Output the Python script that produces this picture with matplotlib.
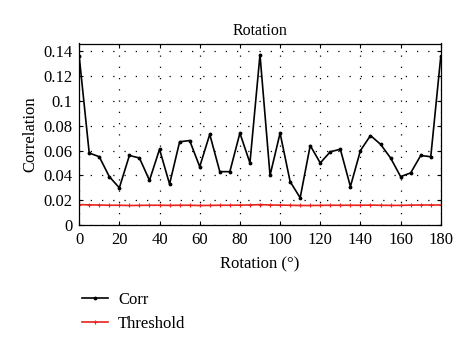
import numpy as np
import matplotlib
matplotlib.use("Agg")
from matplotlib import pyplot as plt

plt.rcParams['font.family'] = ['Liberation Serif', 'DejaVu Serif']
plt.rcParams['mathtext.fontset'] = 'stix'

angles = list(range(0, 181, 5))
corr = [0.136, 0.058, 0.055, 0.039, 0.030, 0.056, 0.054, 0.036, 0.061, 0.033,
        0.067, 0.068, 0.047, 0.073, 0.043, 0.043, 0.074, 0.050, 0.137, 0.040,
        0.074, 0.035, 0.022, 0.064, 0.050, 0.059, 0.061, 0.031, 0.060, 0.072,
        0.065, 0.054, 0.039, 0.042, 0.056, 0.055, 0.136]
threshold = [0.0165, 0.0163, 0.0162, 0.0160, 0.0160, 0.0158, 0.0159, 0.0160, 0.0160, 0.0159,
             0.0160, 0.0160, 0.0158, 0.0159, 0.0160, 0.0160, 0.0161, 0.0162, 0.0165, 0.0162,
             0.0161, 0.0160, 0.0158, 0.0158, 0.0159, 0.0160, 0.0160, 0.0160, 0.0160, 0.0161,
             0.0160, 0.0159, 0.0159, 0.0161, 0.0162, 0.0162, 0.0162]

fig = plt.figure(figsize=(4.74, 3.48), dpi=100)
ax = fig.add_axes([0.167, 0.353, 0.763, 0.522])

l1, = ax.plot(angles, corr, color='black', lw=1.2, marker='.', ms=3.5, label='Corr')
l2, = ax.plot(angles, threshold, color='#e8231c', lw=1.2, marker='+', ms=3, mew=0.8,
              label='Threshold')

ax.set_xlim(0, 180)
ax.set_ylim(0, 0.146)
ax.set_xticks(range(0, 181, 20))
ax.set_yticks(np.arange(0, 0.141, 0.02))
ax.set_yticklabels(['0', '0.02', '0.04', '0.06', '0.08', '0.1', '0.12', '0.14'])
ax.tick_params(direction='in', top=True, right=True, length=3, labelsize=12, pad=5)
ax.grid(True, color='black', linestyle=(0, (1, 8)), linewidth=0.9)
for s in ax.spines.values():
    s.set_linewidth(0.9)

ax.set_title('Rotation', fontsize=11.5, pad=6)
ax.set_xlabel('Rotation (°)', fontsize=12, labelpad=6)
ax.set_ylabel('Correlation', fontsize=12, labelpad=3)

fig.legend(handles=[l1, l2], loc='upper left', bbox_to_anchor=(0.158, 0.18),
           frameon=False, fontsize=12, handlelength=1.6, handletextpad=0.6,
           labelspacing=0.45, borderaxespad=0)

fig.savefig('out.png', dpi=100)
